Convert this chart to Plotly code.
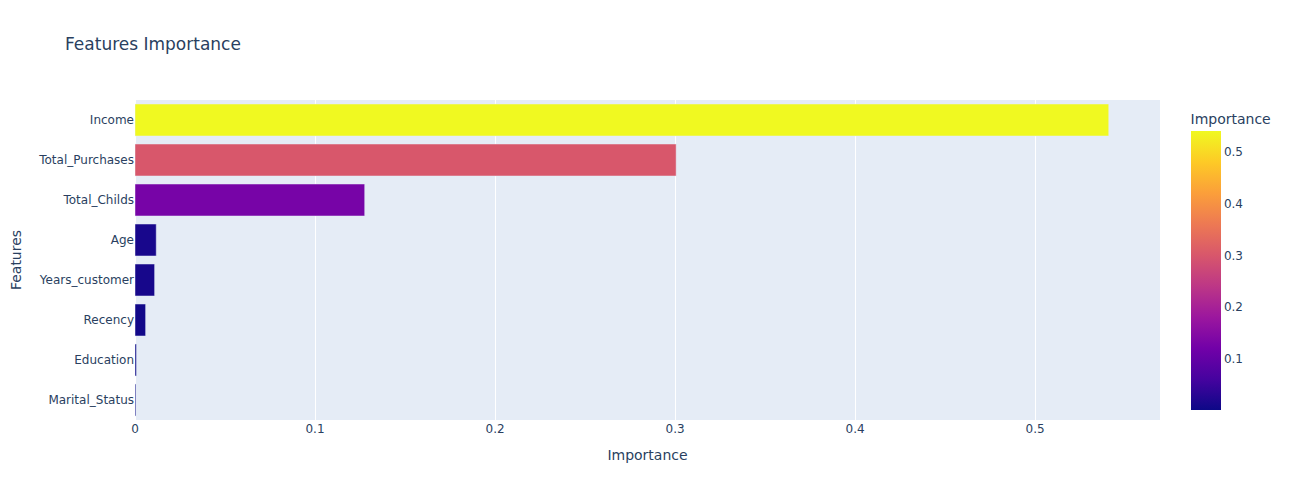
import plotly.graph_objects as go

features = ["Marital_Status", "Education", "Recency", "Years_customer",
            "Age", "Total_Childs", "Total_Purchases", "Income"]
importance = [0.0005, 0.0008, 0.0059, 0.0109, 0.0118, 0.1276, 0.3006, 0.5409]

W, H = 1277, 484  # page body has an 8px margin

fig = go.Figure(
    go.Bar(
        x=importance,
        y=features,
        orientation="h",
        marker=dict(color=importance, coloraxis="coloraxis"),
        hovertemplate="Importance=%{x}<br>Features=%{y}<extra></extra>",
    )
)

fig.update_layout(
    template="plotly",
    font=dict(family="DejaVu Sans"),
    title=dict(text="Features Importance", x=57 / W, y=1 - 36 / H,
               xanchor="left", yanchor="middle"),
    xaxis_title="Importance",
    yaxis=dict(title=dict(text="Features", standoff=20), automargin=False),
    coloraxis=dict(colorscale="Plasma", colorbar=dict(title=dict(text="Importance"))),
    barmode="relative",
    width=W,
    height=H,
    margin=dict(l=127, r=125, t=92, b=72, autoexpand=False),
)

fig.write_html("out.html")
